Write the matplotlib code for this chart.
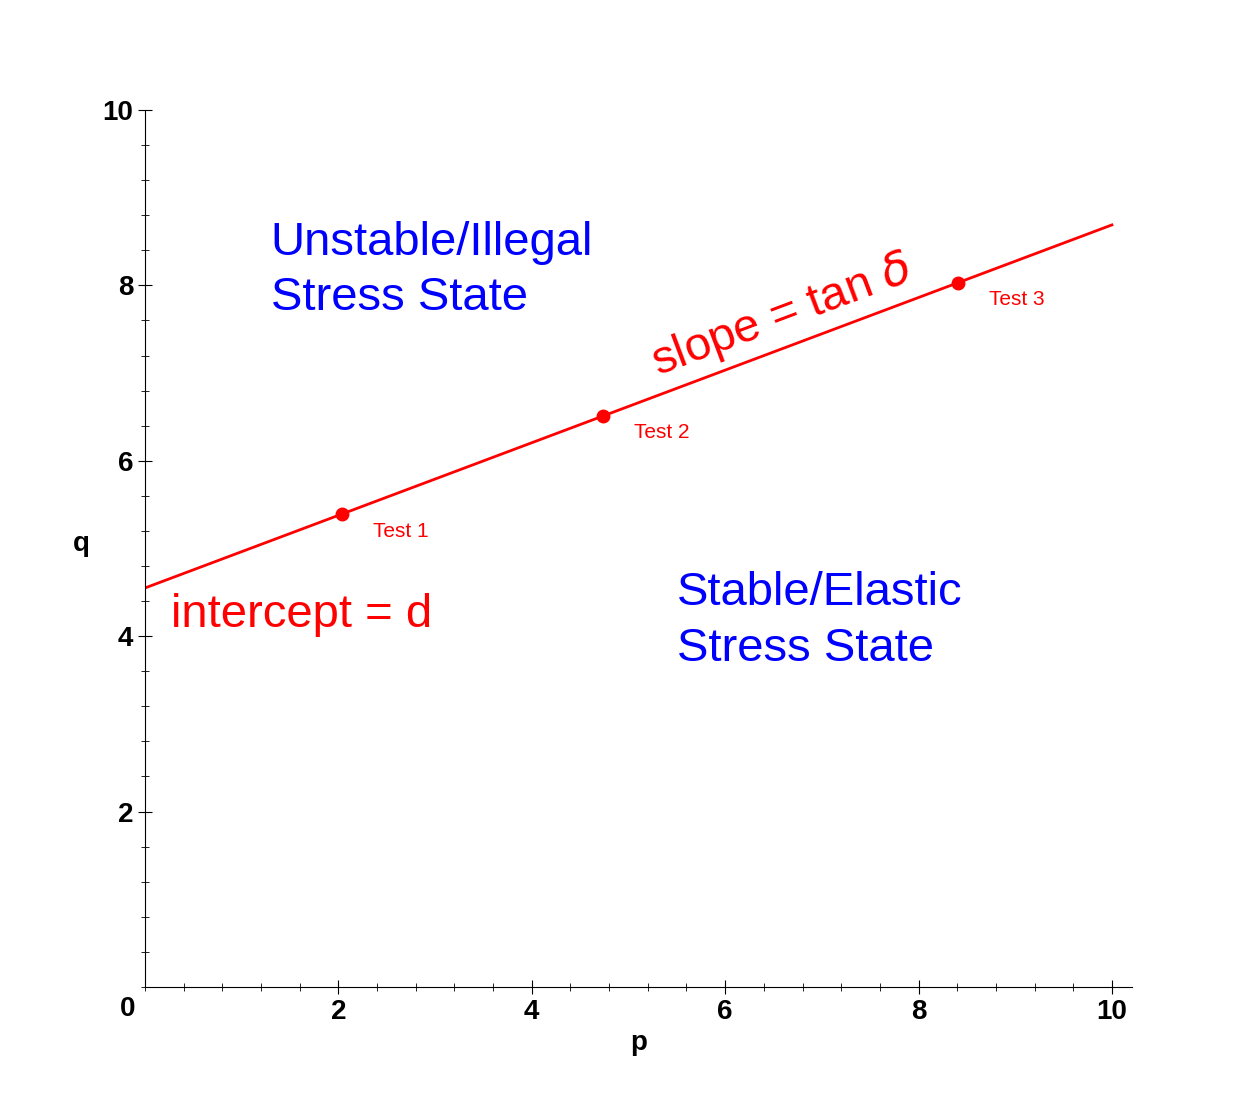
import numpy as np
import matplotlib
matplotlib.use('Agg')
import matplotlib.pyplot as plt
from matplotlib.ticker import MultipleLocator

plt.rcParams['font.family'] = ['Liberation Sans', 'DejaVu Sans']

# data
line_p = [0.0, 10.0]
line_q = [4.55, 8.69]
test_p = [2.04, 4.74, 8.41]
test_q = [5.39, 6.51, 8.03]
test_labels = ['Test 1', 'Test 2', 'Test 3']

fig = plt.figure(figsize=(12.58, 10.96), dpi=100)
ax = fig.add_axes([0.1153, 0.0995, 0.7847, 0.8001])
ax.set_xlim(0, 10.21)
ax.set_ylim(0, 10)

ax.plot(line_p, line_q, color='red', lw=2)
ax.plot(test_p, test_q, 'o', color='red', ms=9)
for p, q, lab in zip(test_p, test_q, test_labels):
    ax.annotate(lab, (p, q), xytext=(22, -16), textcoords='offset points',
                color='red', fontsize=15)

ax.text(1.3, 7.6, 'Unstable/Illegal\nStress State', color='blue', fontsize=34,
        linespacing=1.35, va='bottom')
ax.text(5.5, 3.6, 'Stable/Elastic\nStress State', color='blue', fontsize=34,
        linespacing=1.35, va='bottom')
ax.text(0.27, 4.1, 'intercept = d', color='red', fontsize=34)
ax.text(5.3, 6.97, r'slope = tan $\delta$', color='red', fontsize=34,
        rotation=20.6, rotation_mode='anchor')

for s in ['top', 'right']:
    ax.spines[s].set_visible(False)
ax.xaxis.set_minor_locator(MultipleLocator(0.4))
ax.yaxis.set_minor_locator(MultipleLocator(0.4))
ax.tick_params(which='both', direction='inout', labelsize=20)
ax.tick_params(which='major', length=10)
ax.tick_params(which='minor', length=6)
ax.set_xticks([2, 4, 6, 8, 10])
ax.set_yticks([2, 4, 6, 8, 10])
for t in ax.get_xticklabels() + ax.get_yticklabels():
    t.set_fontweight('bold')
ax.text(-0.1, -0.1, '0', fontsize=20, fontweight='bold', ha='right', va='top')
ax.set_xlabel('p', fontsize=20, fontweight='bold', labelpad=4)
ax.set_ylabel('q', fontsize=20, fontweight='bold', rotation=0, labelpad=12)
ax.yaxis.set_label_coords(-0.065, 0.49)

fig.savefig('out.png', dpi=100)
